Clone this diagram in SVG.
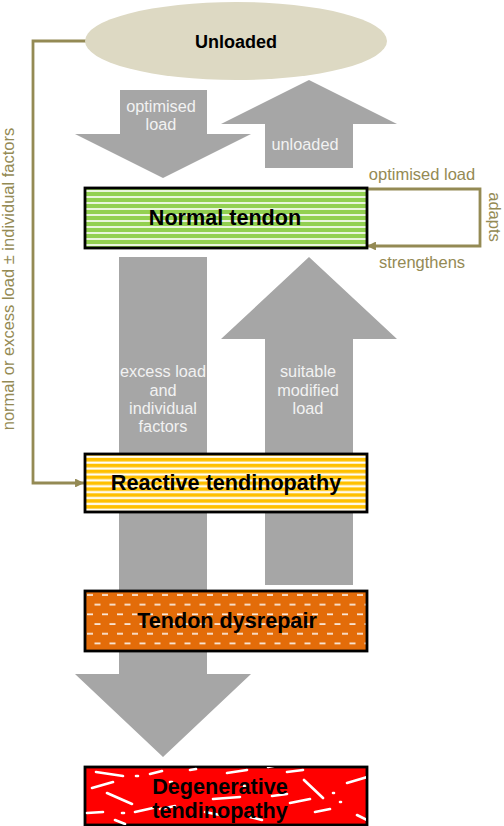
<svg xmlns="http://www.w3.org/2000/svg" width="504" height="826" viewBox="0 0 504 826">
<defs>
<style>
.arr{fill:#A6A6A6}
.box{stroke:#000;stroke-width:2.8}
.lbl{font-family:"Liberation Sans",Arial,sans-serif;font-weight:bold;font-size:21.6px;fill:#000;text-anchor:middle}
.gt{font-family:"Liberation Sans",Arial,sans-serif;font-size:16.3px;fill:#F2F2F2;text-anchor:middle}
.ot{font-family:"Liberation Sans",Arial,sans-serif;font-size:16.5px;fill:#948A54;text-anchor:middle}
.con{fill:none;stroke:#948A54;stroke-width:2.8}
.crack{stroke:#fff;stroke-width:2.6;stroke-linecap:round;fill:none}
</style>
<marker id="ah" viewBox="0 0 10 10" refX="10" refY="5" markerWidth="3.2" markerHeight="3.2" orient="auto" markerUnits="strokeWidth">
<path d="M0,0 L10,5 L0,10 z" fill="#948A54"/>
</marker>
<pattern id="pG" patternUnits="userSpaceOnUse" x="0" y="187" width="8" height="6">
<rect width="8" height="6" fill="#92D050"/>
<rect y="3.2" width="8" height="1.6" fill="#fff"/>
</pattern>
<pattern id="pY" patternUnits="userSpaceOnUse" x="0" y="453" width="8" height="5.9">
<rect width="8" height="5.9" fill="#FFC000"/>
<rect y="2.6" width="8" height="2.2" fill="#fff"/>
</pattern>
<pattern id="pO" patternUnits="userSpaceOnUse" x="86" y="590" width="15" height="19.4">
<rect width="15" height="19.4" fill="#E36C09"/>
<rect x="1" y="4.2" width="6" height="1.5" fill="#fff"/>
<rect x="8.5" y="13.9" width="6" height="1.5" fill="#fff"/>
</pattern>
<clipPath id="cR"><rect x="85" y="767" width="281" height="58"/></clipPath>
</defs>

<g id="flow-arrows">
<path id="arrow-optimised-load" class="arr" d="M120,90 H207 V134 H251 L163,178 L75,134 H120 Z"/>
<path id="arrow-unloaded" class="arr" d="M265,168 V124 H221 L309,80 L397,124 H353 V168 Z"/>
<path id="arrow-excess" class="arr" d="M119,257 H207 V674 H251 L163,757 L75,674 H119 Z"/>
<path id="arrow-suitable" class="arr" d="M265,585 V339 H221 L309,257 L397,339 H353 V585 Z"/>
<text class="gt" x="161" y="112">optimised</text>
<text class="gt" x="161" y="130">load</text>
<text class="gt" x="305" y="150">unloaded</text>
<text class="gt" x="163" y="377">excess load</text>
<text class="gt" x="163" y="396">and</text>
<text class="gt" x="163" y="414">individual</text>
<text class="gt" x="163" y="432">factors</text>
<text class="gt" x="308" y="377">suitable</text>
<text class="gt" x="308" y="396">modified</text>
<text class="gt" x="308" y="414">load</text>
</g>

<g id="connectors">
<path class="con" d="M86,41 H33 V483 H84" marker-end="url(#ah)"/>
<path class="con" d="M367,189 H480 V246 H367" marker-end="url(#ah)"/>
<text class="ot" x="0" y="0" transform="translate(14,279) rotate(-90)">normal or excess load ± individual factors</text>
<text class="ot" x="422" y="180">optimised load</text>
<text class="ot" x="422" y="268">strengthens</text>
<text class="ot" x="0" y="0" transform="translate(489,217) rotate(90)">adapts</text>
</g>

<g id="unloaded">
<ellipse cx="236" cy="41" rx="151" ry="39" fill="#DDD9C3"/>
<text class="lbl" x="236" y="48" style="font-size:18px">Unloaded</text>
</g>

<g id="normal-tendon">
<rect class="box" x="85" y="188" width="282" height="60" fill="url(#pG)"/>
<text class="lbl" x="225" y="225">Normal tendon</text>
</g>

<g id="reactive-tendinopathy">
<rect class="box" x="85" y="454" width="282" height="58" fill="url(#pY)"/>
<text class="lbl" x="226" y="490">Reactive tendinopathy</text>
</g>

<g id="tendon-dysrepair">
<rect class="box" x="85" y="591" width="282" height="60" fill="url(#pO)"/>
<text class="lbl" x="227" y="628">Tendon dysrepair</text>
</g>

<g id="degenerative-tendinopathy">
<rect class="box" x="85" y="767" width="282" height="58" fill="#FF0000"/>
<g clip-path="url(#cR)">
<path class="crack" d="M96,772 L123,776 M136,776 L138,776 M150,774 L162,771 M92,788 L113,782 M107,793 L132,804 M87,813 L103,812 M135,812 L153,808 M122,813 L124,813 M170,782 L172,782 M200,788 L202,788 M227,773 L247,770 M268,767 L278,765 M287,772 L303,770 M304,780 L323,798 M290,803 L310,799 M272,796 L287,794 M213,799 L240,797 M347,783 L367,777 M357,815 L367,820 M340,802 L341,802 M333,793 L334,793 M205,812 L220,815 M160,809 L175,806 M250,817 L262,820 M115,820 L125,824 M190,770 L196,769 M315,812 L330,809 M244,786 L246,786"/>
</g>
<text class="lbl" x="220" y="794">Degenerative</text>
<text class="lbl" x="220" y="818">tendinopathy</text>
</g>
</svg>
